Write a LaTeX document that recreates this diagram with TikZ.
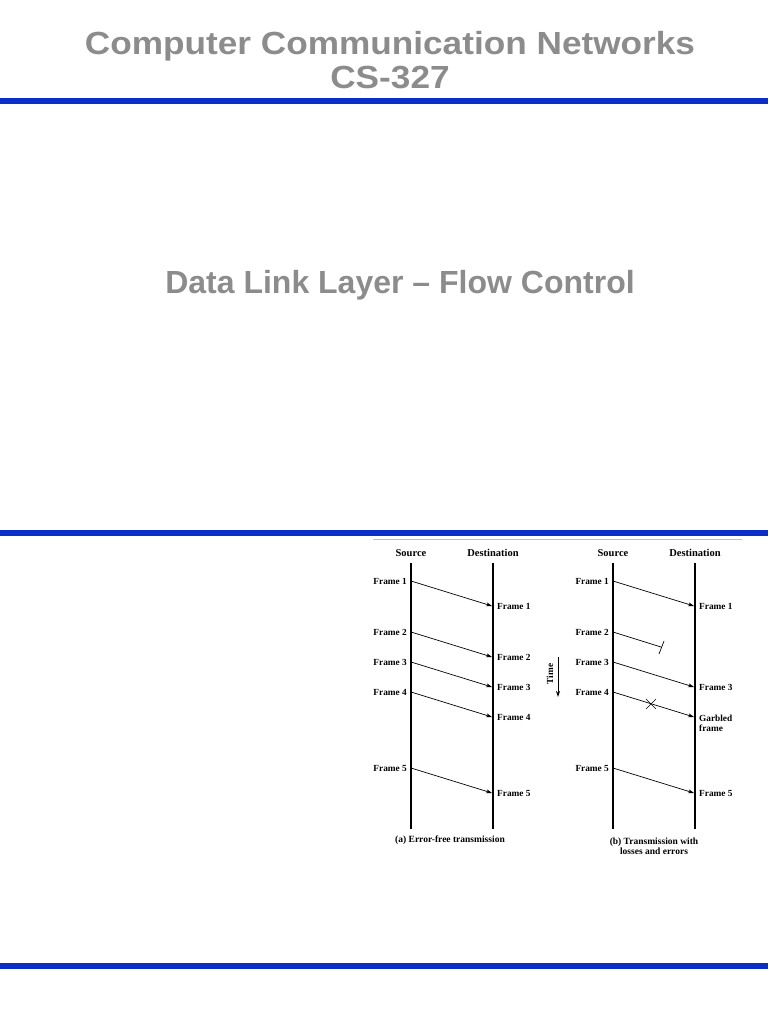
\documentclass[tikz,border=0pt]{standalone}
\usepackage{fontspec}
\setmainfont{Liberation Serif}
\newfontfamily\headfont{Liberation Sans}
\usetikzlibrary{arrows.meta}
\definecolor{barblue}{HTML}{0A2FC8}
\definecolor{titlegray}{HTML}{8C8C8C}
\begin{document}
\begin{tikzpicture}[x=1pt,y=-1pt,
  lifeline/.style={line width=2.2pt},
  msg/.style={line width=0.7pt,-{Stealth[length=6pt,width=4pt]}},
  lbl/.style={font=\bfseries\fontsize{9.3}{10}\selectfont,inner sep=1pt},
  hdr/.style={font=\bfseries\fontsize{10.5}{11}\selectfont,inner sep=0pt,anchor=base},
  captext/.style={font=\bfseries\fontsize{9.5}{10}\selectfont,inner sep=1pt,align=center},
  head/.style={font=\headfont\bfseries\fontsize{32}{34}\selectfont,text=titlegray},
  bar/.style={barblue,line width=6pt}]
\useasboundingbox (0,0) rectangle (768,1024);
% bars
\draw[bar] (0,101) -- (768,101);
\draw[bar] (0,533) -- (768,533);
\draw[bar] (0,966) -- (768,966);
\node[head,xscale=1.1] (t1) at (390,46) {Computer Communication Networks};
\node[head,xscale=1.1] (t2) at (390,78) {CS-327};
\node[head] (t3) at (400,285) {Data Link Layer – Flow Control};
\draw[gray!50,line width=0.6pt] (373,539) -- (742,539);
% headers
\node[hdr] (sa) at (411,556) {Source};
\node[hdr] (da) at (493,556) {Destination};
\node[hdr] (sb) at (613,556) {Source};
\node[hdr] (db) at (695,556) {Destination};
% lifelines
\draw[lifeline] (411,563) -- (411,829);
\draw[lifeline] (493,563) -- (493,829);
\draw[lifeline] (613,563) -- (613,829);
\draw[lifeline] (695,563) -- (695,829);
% (a)
\foreach \n/\ys in {1/581,2/632,3/662,4/692,5/768}{
  \pgfmathsetmacro{\yd}{\ys+25}
  \coordinate (as\n) at (411,\ys);
  \coordinate (ad\n) at (492,\yd);
  \node[lbl,anchor=east] (al\n) at (408,\ys) {Frame \n};
  \node[lbl,anchor=west] (ar\n) at (496,\yd) {Frame \n};
  \draw[msg] (as\n) -- (ad\n);
}
% (b)
\foreach \n/\ys in {1/581,2/632,3/662,4/692,5/768}{
  \coordinate (bs\n) at (613,\ys);
  \node[lbl,anchor=east] (bl\n) at (610,\ys) {Frame \n};
}
\foreach \n/\ys in {1/581,3/662,5/768}{
  \pgfmathsetmacro{\yd}{\ys+25}
  \coordinate (bd\n) at (694,\yd);
  \node[lbl,anchor=west] (br\n) at (698,\yd) {Frame \n};
  \draw[msg] (bs\n) -- (bd\n);
}
\coordinate (lost) at (661,647);
\draw[line width=0.7pt] (bs2) -- (lost);
\draw[line width=0.7pt] (659,654) -- (664,641);
\coordinate (bd4) at (694,717);
\draw[msg] (bs4) -- (bd4);
\draw[line width=0.6pt] (646,699) -- (656,709) (646,709) -- (656,699);
\node[lbl,anchor=west,align=left] (garb) at (698,723) {Garbled\\frame};
% time arrow
\coordinate (ta) at (558,657);
\coordinate (tb) at (558,697);
\draw[line width=1pt,-{Stealth[length=6pt,width=4pt]}] (ta) -- (tb);
\node[lbl,rotate=90] (time) at (550,674) {Time};
% captions
\node[captext] (capa) at (450,840) {(a) Error-free transmission};
\node[captext] (capb) at (654,846) {(b) Transmission with\\losses and errors};
\end{tikzpicture}
\end{document}
